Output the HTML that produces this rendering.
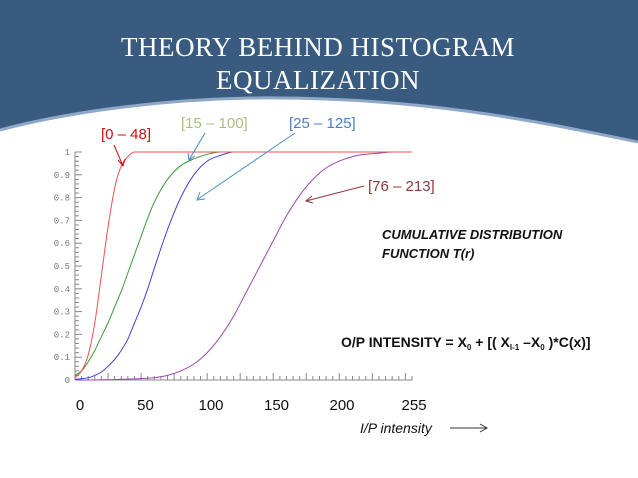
<!DOCTYPE html>
<html><head><meta charset="utf-8"><style>
html,body{margin:0;padding:0;background:#fff;}
svg{display:block;}
</style></head><body>
<svg id="chart" width="638" height="478" viewBox="0 0 638 478" xmlns="http://www.w3.org/2000/svg">
<path d="M0,0 H638 V142 C540,122 420,96 250,98 C150,100 60,114 0,130 Z" fill="#3a5b80"/>
<path d="M0,130 C60,114 150,100 250,98 C420,96 540,122 638,142" fill="none" stroke="#8fa8c8" stroke-width="3"/>
<text x="318" y="56" text-anchor="middle" font-family="Liberation Serif, serif" font-size="27" fill="#fff" letter-spacing="0.5">THEORY BEHIND HISTOGRAM</text>
<text x="318" y="89" text-anchor="middle" font-family="Liberation Serif, serif" font-size="27" fill="#fff" letter-spacing="0.5">EQUALIZATION</text>
<g id="axes"></g>
<g id="series"></g>
<g id="notes" font-family="Liberation Sans, sans-serif">
<text x="101" y="139" font-size="15" fill="#d01010">[0 – 48]</text>
<line x1="114" y1="145" x2="123" y2="166" stroke="#d01010" stroke-width="1"/>
<path d="M118,160 L123,166 L125,159" fill="none" stroke="#d01010"/>
<text x="181" y="128" font-size="15" fill="#a8bf7c">[15 – 100]</text>
<line x1="205" y1="133" x2="189" y2="160" stroke="#4a7fc0" stroke-width="1"/>
<path d="M188,153 L189,160 L195,156" fill="none" stroke="#4a7fc0"/>
<text x="289" y="128" font-size="15" fill="#4a7fc0">[25 – 125]</text>
<line x1="295" y1="133" x2="198" y2="199" stroke="#4a90c8" stroke-width="1"/>
<path d="M200,192 L197,200 L205,199" fill="none" stroke="#4a90c8"/>
<text x="368" y="191" font-size="15" fill="#8b3a3a">[76 – 213]</text>
<line x1="364" y1="186" x2="306" y2="201" stroke="#8b3a3a" stroke-width="1"/>
<path d="M312,196 L306,201 L313,203" fill="none" stroke="#8b3a3a"/>
<text x="382" y="239" font-size="13" font-weight="bold" font-style="italic" fill="#111">CUMULATIVE DISTRIBUTION</text>
<text x="382" y="258" font-size="13" font-weight="bold" font-style="italic" fill="#111">FUNCTION T(r)</text>
<text x="341" y="347" font-size="14" font-weight="bold" fill="#111">O/P INTENSITY = X<tspan font-size="8" dy="3">0</tspan><tspan dy="-3"> + [( X</tspan><tspan font-size="8" dy="3">l-1</tspan><tspan dy="-3"> –X</tspan><tspan font-size="8" dy="3">0</tspan><tspan dy="-3"> )*C(x)]</tspan></text>
<text x="360" y="433" font-size="14" font-style="italic" fill="#111">I/P intensity</text>
<line x1="450" y1="428" x2="487" y2="428" stroke="#333"/>
<path d="M480,424 L487,428 L480,432" fill="none" stroke="#333"/>
</g>
</svg>
<script>
const xLevels = [0,5,10,15,20,25,30,35,40,45,50,55,60,70,80,90,100,110,120,130,140,150,160,170,180,190,200,210,220,230,240,250,255];
const redVals    = [0.01,0.04,0.11,0.25,0.46,0.67,0.84,0.94,0.98,1,1,1,1,1,1,1,1,1,1,1,1,1,1,1,1,1,1,1,1,1,1,1,1];
const greenVals  = [0.02,0.04,0.08,0.13,0.19,0.25,0.32,0.39,0.47,0.55,0.63,0.71,0.78,0.88,0.94,0.97,0.99,1,1,1,1,1,1,1,1,1,1,1,1,1,1,1,1];
const blueVals   = [0.003,0.006,0.01,0.02,0.035,0.06,0.09,0.13,0.18,0.25,0.32,0.4,0.49,0.66,0.8,0.9,0.96,0.985,1,1,1,1,1,1,1,1,1,1,1,1,1,1,1];
const purpleVals = [0,0,0,0,0.001,0.001,0.002,0.003,0.004,0.005,0.006,0.008,0.01,0.02,0.04,0.07,0.12,0.19,0.28,0.39,0.5,0.61,0.72,0.81,0.88,0.93,0.96,0.98,0.99,0.995,1,1,1];
const yTickLabels = ["0","0.1","0.2","0.3","0.4","0.5","0.6","0.7","0.8","0.9","1"];
const xTickLabels = ["0","50","100","150","200","255"];
const xLabelVals = [0,50,100,150,200,255];

const NS="http://www.w3.org/2000/svg";
const X0=75,X1=412,Y0=380,Y1=152;
function xs(v){return X0+(v/255)*(X1-X0);}
function ys(v){return Y0-v*(Y0-Y1);}
function lx(v){return 80+v*1.31;}
function mk(tag,attrs,parent){const e=document.createElementNS(NS,tag);for(const k in attrs)e.setAttribute(k,attrs[k]);parent.appendChild(e);return e;}
const axes=document.getElementById('axes');
let e=mk('line',{x1:X0,y1:Y0,x2:X1,y2:Y0,stroke:'#888'},axes);


e=mk('line',{x1:X0,y1:Y0,x2:X0,y2:Y1,stroke:'#888'},axes);


for(let v=0;v<=255;v+=5){
  const major=(v%25===0);
  e=mk('line',{x1:xs(v),y1:Y0,x2:xs(v),y2:Y0-(major?7:4),stroke:'#888'},axes);
  
  
}
for(let i=0;i<=50;i++){
  const v=i/50, major=(i%5===0);
  e=mk('line',{x1:X0,y1:ys(v),x2:X0+(major?7:4),y2:ys(v),stroke:'#888'},axes);
  
  
}
yTickLabels.forEach((t,i)=>{
  const el=mk('text',{x:70,y:ys(i/10)+3,'text-anchor':'end','font-family':'Liberation Mono, monospace','font-size':'9',fill:'#777'},axes);
  el.textContent=t;
  
  
});
xTickLabels.forEach((t,i)=>{
  const el=mk('text',{x:lx(xLabelVals[i]),y:410,'text-anchor':'middle','font-family':'Liberation Sans, sans-serif','font-size':'15',fill:'#111'},axes);
  el.textContent=t;
  
  
});
const ser=document.getElementById('series');
function monoPath(px,py){
  const n=px.length, d=[], m=[];
  for(let i=0;i<n-1;i++) d.push((py[i+1]-py[i])/(px[i+1]-px[i]));
  m[0]=d[0]; m[n-1]=d[n-2];
  for(let i=1;i<n-1;i++){ m[i]=(d[i-1]*d[i]<=0)?0:(d[i-1]+d[i])/2; }
  for(let i=0;i<n-1;i++){
    if(d[i]===0){m[i]=0;m[i+1]=0;continue;}
    const a=m[i]/d[i], b=m[i+1]/d[i], s=a*a+b*b;
    if(s>9){const t=3/Math.sqrt(s);m[i]=t*a*d[i];m[i+1]=t*b*d[i];}
  }
  let p='M'+px[0].toFixed(1)+','+py[0].toFixed(1);
  for(let i=0;i<n-1;i++){
    const h=(px[i+1]-px[i])/3;
    p+='C'+(px[i]+h).toFixed(1)+','+(py[i]+m[i]*h).toFixed(1)+' '+(px[i+1]-h).toFixed(1)+','+(py[i+1]-m[i+1]*h).toFixed(1)+' '+px[i+1].toFixed(1)+','+py[i+1].toFixed(1);
  }
  return p;
}
function line(vals,color,name){
  const px=xLevels.map(xs), py=vals.map(ys);
  const p=mk('path',{d:monoPath(px,py),fill:'none',stroke:color,'stroke-width':'1','stroke-linejoin':'round'},ser);
  
  
}
line(purpleVals,'#9a4aa8','cdf-76-213');
line(blueVals,'#4040d8','cdf-25-125');
line(greenVals,'#3a9a3a','cdf-15-100');
line(redVals,'#f05050','cdf-0-48');
</script>
</body></html>
